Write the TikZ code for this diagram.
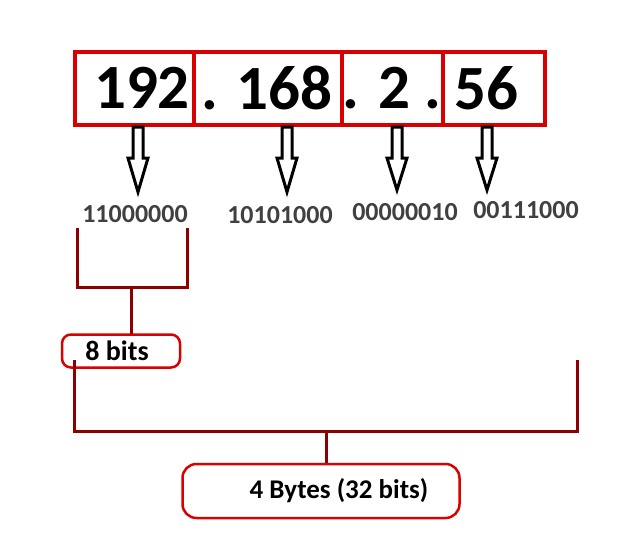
\documentclass[tikz,border=0pt]{standalone}
\usepackage{fontspec}
\setmainfont{Carlito}
\begin{document}
\begin{tikzpicture}[x=1pt,y=-1pt,
  redbox/.style={draw=red!85!black,line width=3.5pt},
  brk/.style={draw=red!55!black,line width=3pt},
  bin/.style={font=\bfseries\fontsize{26}{28}\selectfont,text=black!75},
  big/.style={font=\bfseries\fontsize{63}{68}\selectfont}]
\useasboundingbox (0,0) rectangle (638,555);
% top boxes
\draw[redbox] (75,52) rectangle (545,125);
\draw[redbox] (194,52) -- (194,125) (342,52) -- (342,125) (443,52) -- (443,125);
\node[big] (a) at (142,88) {192};
\node[big] (b) at (267,88) {. 168};
\node[big] (c) at (392,88) {. 2 .};
\node[big] (d) at (486,88) {56};
% hollow arrows
\foreach \x/\t in {138/192,287/192,397/190,487/190}{
  \draw[line width=3pt,line join=miter] (\x-5,127) -- (\x+5,127) -- (\x+5,158) -- (\x+10,158) -- (\x,\t) -- (\x-10,158) -- (\x-5,158) -- cycle;}
\node[bin] (b1) at (135,214) {11000000};
\node[bin] (b2) at (280,215) {10101000};
\node[bin] (b3) at (405,212) {00000010};
\node[bin] (b4) at (526,210) {00111000};
% small bracket
\draw[brk] (77,228) -- (77,287) -- (187,287) -- (187,228);
\coordinate (s1) at (131,287);
\node[draw=red!85!black,line width=2.5pt,rounded corners=9pt,minimum width=118pt,minimum height=33pt,font=\bfseries\fontsize{28}{30}\selectfont] (eight) at (121,351) {\hspace*{-8pt}8 bits};
\draw[brk] (s1) -- (131,334);
% big bracket
\draw[brk] (74,360) -- (74,431) -- (577,431) -- (577,360);
\coordinate (s2) at (326,431);
\node[draw=red!85!black,line width=2.5pt,rounded corners=14pt,minimum width=277pt,minimum height=54pt,font=\bfseries\fontsize{27}{29}\selectfont] (four) at (321,491) {\hspace*{36pt}4 Bytes (32 bits)};
\draw[brk] (s2) -- (four.north -| s2);
\end{tikzpicture}
\end{document}
